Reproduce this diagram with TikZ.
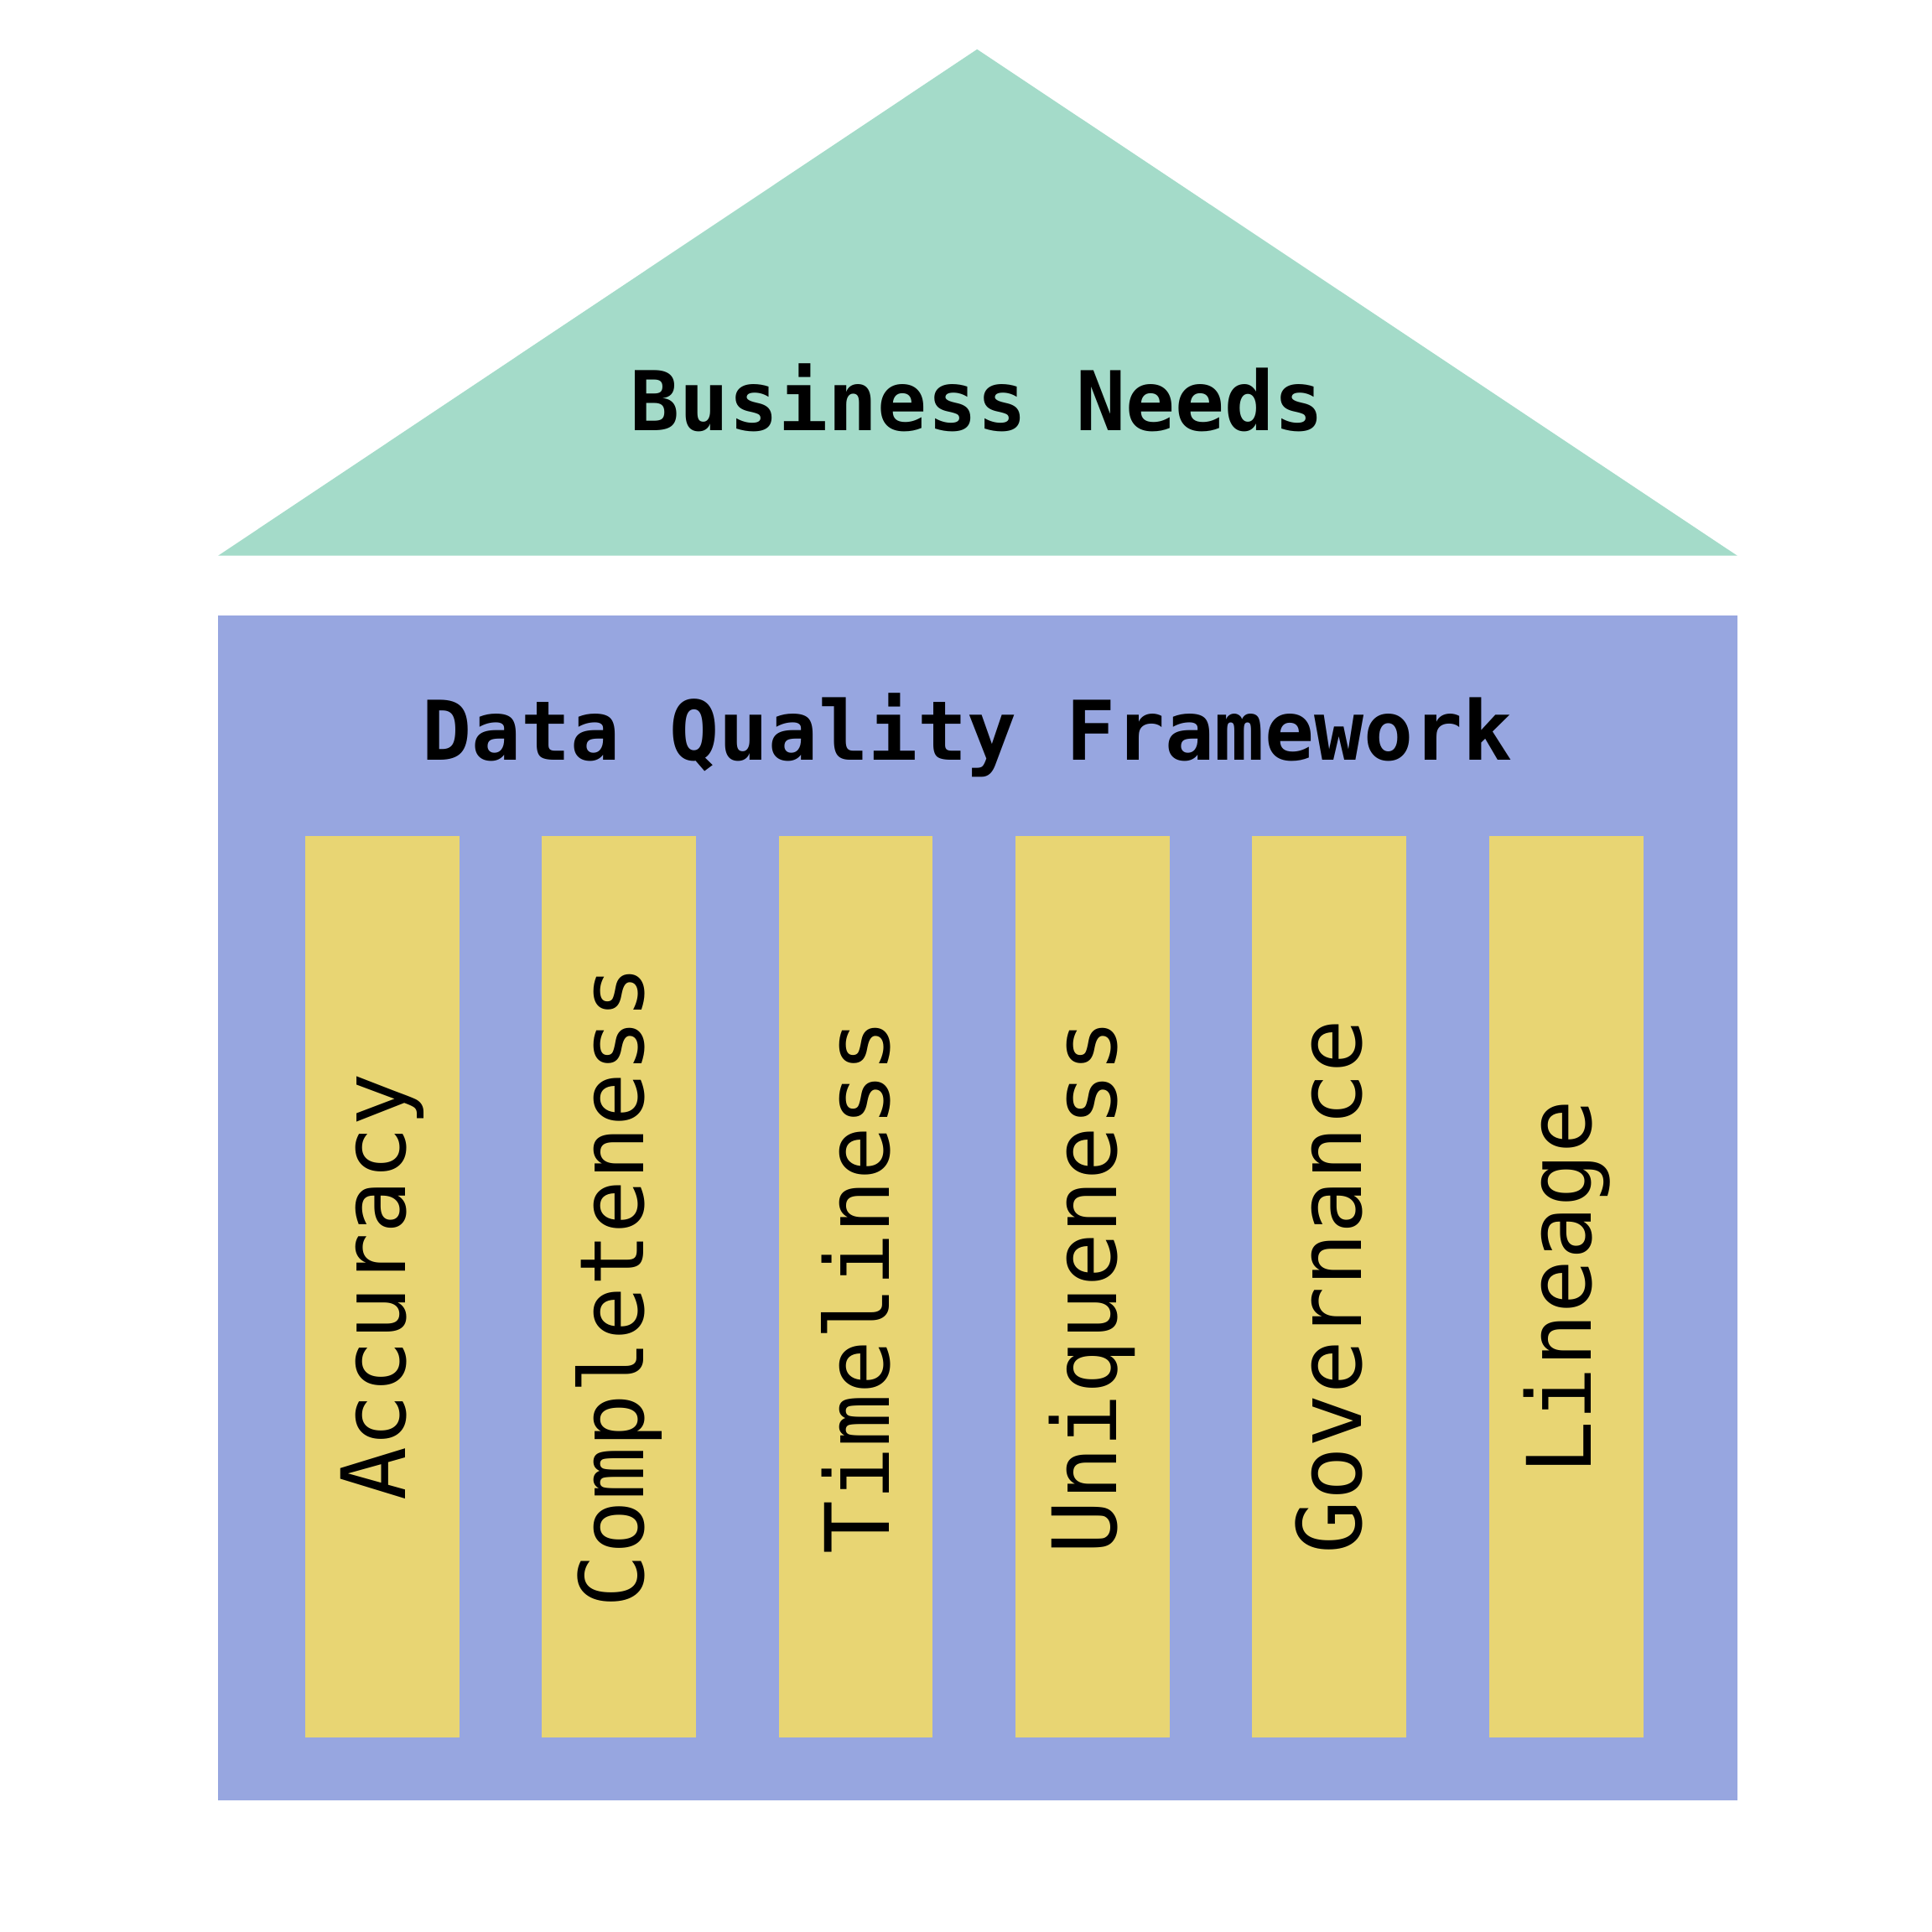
\documentclass[tikz,border=0pt]{standalone}
\usepackage{fontspec}
\setmainfont{DejaVu Sans Mono}
\usepackage{xcolor}
\usepackage{tikz}
\definecolor{dqgreen}{HTML}{A4DBC9}
\definecolor{dqblue}{HTML}{97A6E0}
\definecolor{dqyellow}{HTML}{E8D573}
\begin{document}
\begin{tikzpicture}[x=0.01cm, y=-0.01cm,
  pillar/.style={fill=dqyellow, minimum width=7.31cm, minimum height=1.25cm, inner sep=0pt, rotate=90, font=\fontsize{20.5}{24}\selectfont},
  heading/.style={inner sep=0pt, font=\fontsize{19}{23}\selectfont\bfseries}]
  \useasboundingbox (0,0) rectangle (1568,1568);
  \fill[dqgreen] (793,40) -- (1410,451) -- (177,451) -- cycle;
  \node[heading] (needs) at (793,323) {Business Needs};
  \node[fill=dqblue, minimum width=12.33cm, minimum height=9.61cm, inner sep=0pt] (frame) at (793.5,980.5) {};
  \node[heading] (dqf) at (785,597) {Data Quality Framework};
  \node[pillar] (acc) at (310.5,1044.5) {Accuracy};
  \node[pillar] (com) at (502.5,1044.5) {Completeness};
  \node[pillar] (tim) at (694.5,1044.5) {Timeliness};
  \node[pillar] (uni) at (886.5,1044.5) {Uniqueness};
  \node[pillar] (gov) at (1078.5,1044.5) {Governance};
  \node[pillar] (lin) at (1271.5,1044.5) {Lineage};
\end{tikzpicture}
\end{document}
